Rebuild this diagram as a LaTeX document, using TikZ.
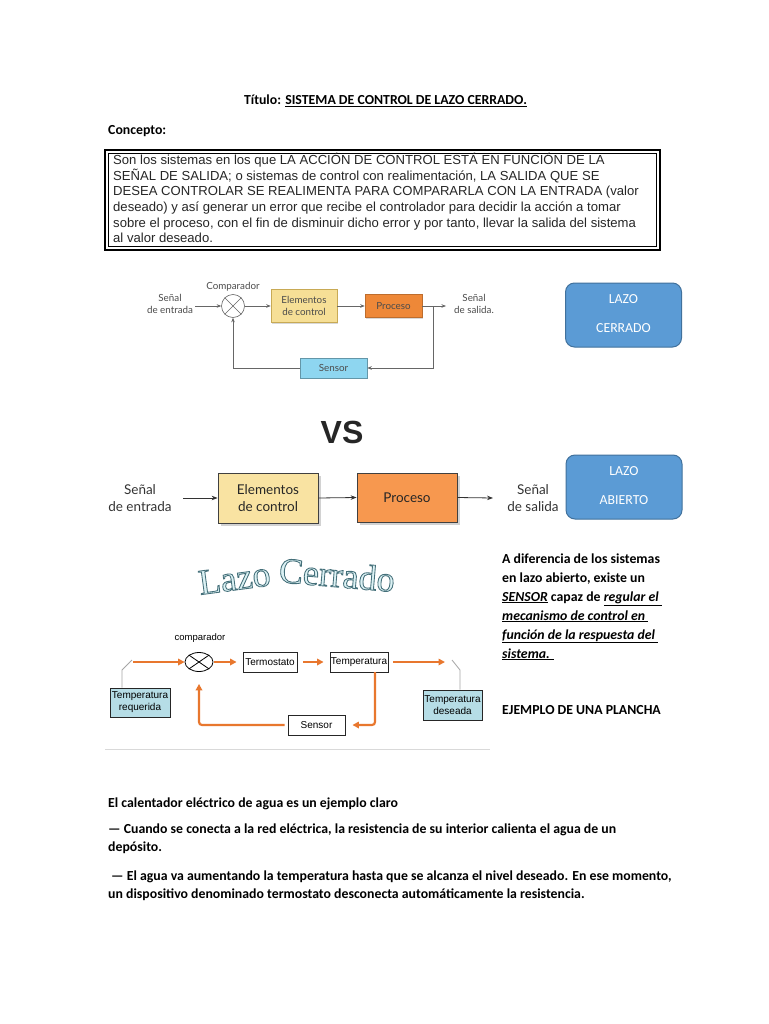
\documentclass[tikz,border=0pt]{standalone}
\usepackage{fontspec}
\setmainfont{Carlito}
\newfontfamily\arialf{Liberation Sans}
\newfontfamily\gillf{Lato}
\newfontfamily\wafont[FakeBold=2.4]{Liberation Serif}
\usetikzlibrary{arrows.meta,shapes.geometric,shadows}
\definecolor{lazof}{HTML}{5B9BD5}
\definecolor{lazob}{HTML}{41719C}
\definecolor{yelA}{HTML}{F6DF96}
\definecolor{yelAb}{HTML}{C8AA55}
\definecolor{oraA}{HTML}{EE8838}
\definecolor{skyA}{HTML}{8ED6F0}
\definecolor{yelB}{HTML}{F9E3A2}
\definecolor{oraB}{HTML}{F7984F}
\definecolor{orl}{HTML}{E8772E}
\definecolor{tealC}{HTML}{B6DDE6}
\definecolor{lineg}{HTML}{666666}
\newcommand{\waout}[1]{\special{pdf:bcolor [0.86 0.945 0.957] [0.27 0.44 0.48]}#1\special{pdf:ecolor}}
\begin{document}
\begin{tikzpicture}[x=1pt,y=-1pt,
  body/.style={anchor=base west, inner sep=0, font=\fontsize{13.8}{16}\selectfont\bfseries},
  concept/.style={anchor=base west, inner sep=0, text=black!85, font=\arialf\fontsize{13.1}{16}\selectfont},
  lazo/.style={draw=lazob, fill=lazof, line width=1pt, rounded corners=9pt, minimum width=116, minimum height=64},
  lazot/.style={text=white, font=\fontsize{13.8}{16}\selectfont, inner sep=0},
  gA/.style={lineg, line width=0.6pt},
  arA/.style={gA, -{Stealth[length=4.5pt,width=3.5pt]}},
  boxA/.style={line width=0.5pt, inner sep=0, align=center, text=black!70, font=\gillf\fontsize{9.8}{11.5}\selectfont, drop shadow={shadow xshift=1.2pt, shadow yshift=-1.2pt, opacity=0.3}},
  labA/.style={align=center, inner sep=0, text=black!70, font=\gillf\fontsize{9.8}{11.5}\selectfont},
  boxB/.style={draw=black!75, line width=0.8pt, inner sep=0, align=center, text=black!85, font=\gillf\fontsize{13.5}{17}\selectfont, drop shadow={shadow xshift=2.5pt, shadow yshift=-2.5pt, opacity=0.35}},
  labB/.style={align=center, inner sep=0, text=black!80, font=\gillf\fontsize{13.5}{17}\selectfont},
  arB/.style={black!80, line width=0.8pt, -{Stealth[length=6pt,width=4.5pt]}},
  boxC/.style={draw=black!85, line width=0.9pt, inner sep=0, align=center, font=\arialf\fontsize{10}{12}\selectfont},
  arC/.style={orl, line width=2.2pt, -{Triangle[length=6.5pt,width=6.5pt]}},
  gC/.style={gray!70, line width=0.8pt},
  waword/.style={anchor=base, inner sep=0, font=\wafont\fontsize{36}{36}\selectfont}
]
\useasboundingbox (0,0) rectangle (768,1024);
\fill[white] (0,0) rectangle (768,1024);

% title
\node[anchor=base, inner sep=0, font=\fontsize{13.8}{16}\selectfont\bfseries] (title) at (385.5,105) {Título: \underline{SISTEMA DE CONTROL DE LAZO CERRADO.}};
\node[body] (concepto) at (108,135) {Concepto:};

% concept box
\draw[line width=2pt] (105,150) rectangle (660,250);
\draw[line width=0.7pt] (108.5,153.5) rectangle (656.5,246.5);
\node[concept] (l1) at (113,164.5) {Son los sistemas en los que LA ACCIÓN DE CONTROL ESTÁ EN FUNCIÓN DE LA};
\node[concept] (l2) at (113,180.2) {SEÑAL DE SALIDA; o sistemas de control con realimentación, LA SALIDA QUE SE};
\node[concept] (l3) at (113,195.9) {DESEA CONTROLAR SE REALIMENTA PARA COMPARARLA CON LA ENTRADA (valor};
\node[concept] (l4) at (113,211.6) {deseado) y así generar un error que recibe el controlador para decidir la acción a tomar};
\node[concept] (l5) at (113,227.3) {sobre el proceso, con el fin de disminuir dicho error y por tanto, llevar la salida del sistema};
\node[concept] (l6) at (113,243) {al valor deseado.};

% diagram 1 (closed loop)
\node[circle, draw=lineg, line width=0.6pt, minimum size=23pt, inner sep=0, fill=white] (c1) at (233,306) {};
\draw[gA] (c1.north west) -- (c1.south east);
\draw[gA] (c1.north east) -- (c1.south west);
\node[labA] (cmp1) at (233,287) {Comparador};
\node[boxA, fill=yelA, draw=yelAb, minimum width=66, minimum height=33] (e1) at (304,306) {Elementos\\de control};
\node[boxA, fill=oraA, draw=oraA!80!black, minimum width=57, minimum height=23] (p1) at (393.5,306) {Proceso};
\node[boxA, fill=skyA, draw=skyA!70!black, minimum width=67, minimum height=20] (s1) at (333.5,368) {Sensor};
\node[labA] (in1) at (170,304) {Señal\\de entrada};
\node[labA] (out1) at (474,304) {Señal\\de salida.};
\coordinate (in1e) at (195,306);
\coordinate (o1) at (446,306);
\coordinate (br1) at (433,306);
\draw[arA] (in1e) -- (c1.west);
\draw[arA] (c1.east) -- (e1.west);
\draw[arA] (e1.east) -- (p1.west);
\draw[arA] (p1.east) -- (o1);
\draw[arA] (br1) |- (s1.east);
\draw[arA] (s1.west) -| (c1.south);

% lazo cerrado box
\node[lazo] (lc) at (623.5,315) {};
\node[lazot] (lc1) at (623.5,299) {LAZO};
\node[lazot] (lc2) at (623.5,328) {CERRADO};

% VS
\node[inner sep=0, text=black!85, font=\arialf\bfseries\fontsize{32}{32}\selectfont] (vs) at (342,432) {VS};

% diagram 2 (open loop)
\node[labB] (in2) at (140,498) {Señal\\de entrada};
\node[boxB, fill=yelB, minimum width=100, minimum height=50] (e2) at (268,498) {Elementos\\de control};
\node[boxB, fill=oraB, minimum width=100, minimum height=49] (p2) at (407,497.5) {Proceso};
\node[labB] (out2) at (533,498) {Señal\\de salida};
\coordinate (in2e) at (183,498);
\coordinate (o2) at (493,498);
\draw[arB] (in2e) -- (e2.west);
\draw[arB] (e2.east) -- (p2.west);
\draw[arB] (p2.east) -- (o2);

% lazo abierto box
\node[lazo] (la) at (624,487) {};
\node[lazot] (la1) at (624,471) {LAZO};
\node[lazot] (la2) at (624,500) {ABIERTO};

% diagram 3: WordArt title (light fill, dark outline), two words on an arch
\node[waword, rotate=7.6] (wa1) at (236,590) {\waout{Lazo}};
\node[waword, rotate=-4.9] (wa2) at (336,587) {\waout{Cerrado}};

\node[inner sep=0, font=\arialf\fontsize{9.5}{11}\selectfont] (cmp3) at (200,638) {comparador};
\node[ellipse, draw=black, line width=0.8pt, minimum width=28, minimum height=19, inner sep=0] (c3) at (199,662) {};
\draw[black, line width=0.8pt] (c3.north west) -- (c3.south east);
\draw[black, line width=0.8pt] (c3.north east) -- (c3.south west);
\node[boxC, fill=white, minimum width=54, minimum height=20] (t3) at (270,662) {Termostato};
\node[boxC, fill=white, minimum width=58, minimum height=20] (tp3) at (359,662) {Temperatura};
\node[boxC, fill=tealC, minimum width=60, minimum height=29] (req3) at (140,702.5) {Temperatura\\requerida};
\node[boxC, fill=tealC, minimum width=59, minimum height=30] (des3) at (452.5,705) {Temperatura\\deseada};
\node[boxC, fill=white, minimum width=57, minimum height=20] (s3) at (316.5,725) {Sensor};
\coordinate (a3) at (133,662);
\coordinate (o3) at (445,662);
\coordinate (f3) at (375,672);
\draw[arC] (a3) -- (c3.west);
\draw[arC, shorten <=1pt, shorten >=6pt] (c3.east) -- (t3.west);
\draw[arC, shorten <=6pt, shorten >=6pt] (t3.east) -- (tp3.west);
\draw[arC, shorten <=5pt] (tp3.east) -- (o3);
\draw[arC, rounded corners=3pt, shorten >=7pt] (f3) |- (s3.east);
\draw[arC, rounded corners=3pt, shorten <=3pt, shorten >=12pt] (s3.west) -| (c3.south);
\draw[gC] (132,660) -- (122,670) -- (req3.north -| 122,0);
\draw[gC] (452,660) -- (460,670) -- (des3.north -| 460,0);
\draw[gray!30, line width=1pt] (105,749) -- (490,749);

% right text
\node[body] (r1) at (502,563) {A diferencia de los sistemas};
\node[body] (r2) at (502,582) {en lazo abierto, existe un};
\node[body] (r3) at (502,601) {\underline{\textit{SENSOR}} capaz de \underline{\textit{regular el }}};
\node[body] (r4) at (502,620) {\underline{\textit{mecanismo de control en }}};
\node[body] (r5) at (502,639) {\underline{\textit{función de la respuesta del }}};
\node[body] (r6) at (502,658) {\underline{\textit{sistema. }}};
\node[body] (r7) at (502,714) {EJEMPLO DE UNA PLANCHA};

% bottom text
\node[body] (b1) at (108,807) {El calentador eléctrico de agua es un ejemplo claro};
\node[body] (b2) at (108,833) {— Cuando se conecta a la red eléctrica, la resistencia de su interior calienta el agua de un};
\node[body] (b3) at (108,851) {depósito.};
\node[body] (b4) at (111,880) {— El agua va aumentando la temperatura hasta que se alcanza el nivel deseado. En ese momento,};
\node[body] (b5) at (108,898) {un dispositivo denominado termostato desconecta automáticamente la resistencia.};
\end{tikzpicture}
\end{document}
